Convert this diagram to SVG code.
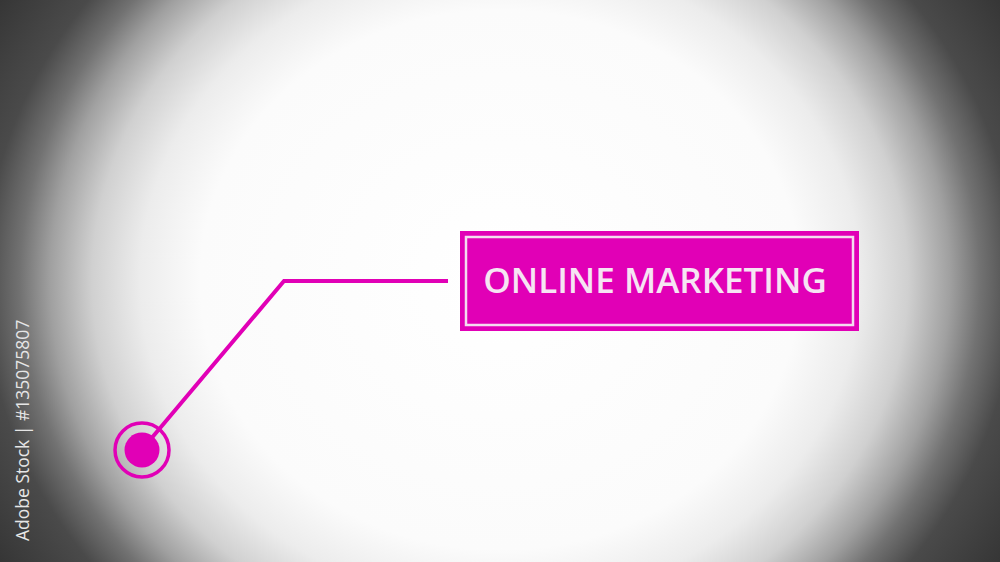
<svg xmlns="http://www.w3.org/2000/svg" width="1000" height="562" viewBox="0 0 1000 562">
  <defs>
    <radialGradient id="bg" cx="500" cy="280" r="600" gradientUnits="userSpaceOnUse" gradientTransform="translate(500 280) scale(1 0.9) translate(-500 -280)">
      <stop offset="0" stop-color="#ffffff"/>
      <stop offset="0.5" stop-color="#fbfbfb"/>
      <stop offset="0.6" stop-color="#ececec"/>
      <stop offset="0.68" stop-color="#d0d0d0"/>
      <stop offset="0.75" stop-color="#a0a0a0"/>
      <stop offset="0.8" stop-color="#727272"/>
      <stop offset="0.86" stop-color="#4a4a4a"/>
      <stop offset="1" stop-color="#333333"/>
    </radialGradient>
    <style>
      .mag { fill: #e100b6; }
      .conn { fill: none; stroke: #e100b6; stroke-width: 4; stroke-linejoin: miter; }
      .label { font-family: "Open Sans", "Noto Sans", sans-serif; font-size: 35px; font-weight: 600; fill: #f6e4f3; }
      .wm { font-family: "Open Sans", "DejaVu Sans", sans-serif; font-size: 17.5px; fill: #e6e6e6; }
    </style>
  </defs>
  <rect width="1000" height="562" fill="url(#bg)"/>

  <g id="connectors">
    <polyline class="conn" points="448,281 284,281 150,440"/>
  </g>

  <g id="node-target">
    <circle cx="142" cy="450" r="27" fill="none" stroke="#e100b6" stroke-width="3.5"/>
    <circle cx="142" cy="450" r="17.5" class="mag"/>
  </g>

  <g id="node-online-marketing">
    <rect x="460" y="231" width="399" height="100" class="mag"/>
    <rect x="466" y="237" width="387" height="88" fill="none" stroke="#f4dcef" stroke-width="2.5"/>
    <text x="655" y="293" text-anchor="middle" class="label">ONLINE MARKETING</text>
  </g>

  <text class="wm" transform="translate(29 541) rotate(-90)">Adobe Stock | #135075807</text>
</svg>
